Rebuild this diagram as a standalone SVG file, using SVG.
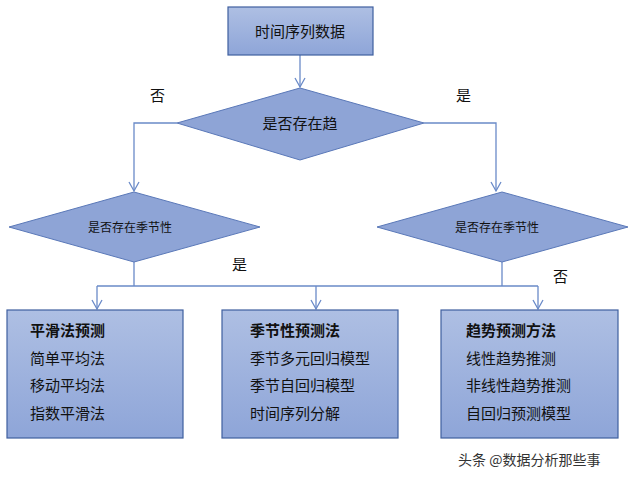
<svg xmlns="http://www.w3.org/2000/svg" width="640" height="480" viewBox="0 0 640 480">
<style>
text{font-family:"Noto Sans CJK SC","Liberation Sans",sans-serif;fill:#111}
.n{fill:url(#g);stroke:#3f5f9f;stroke-width:1.2}
.d{fill:#8ea4d6;stroke:#5a78b8;stroke-width:1}
.c{fill:none;stroke:#6a8ac8;stroke-width:1.3}
.t{font-size:15px}
.b{font-size:15px;font-weight:bold}
.s{font-size:12px}
</style>
<defs>
<linearGradient id="g" x1="0" y1="0" x2="0" y2="1"><stop offset="0" stop-color="#aebfe3"/><stop offset="1" stop-color="#8ea5d8"/></linearGradient>
<marker id="a" markerWidth="12" markerHeight="14" refX="10" refY="6" orient="auto" markerUnits="userSpaceOnUse"><path d="M1,1 L10,6 L1,11" fill="none" stroke="#6a8ac8" stroke-width="1.3"/></marker>
</defs>
<rect width="640" height="480" fill="#fff"/>
<g id="connectors">
<path class="c" d="M300,55 V87" marker-end="url(#a)"/>
<path class="c" d="M177,123 H134 V191" marker-end="url(#a)"/>
<path class="c" d="M424,123 H496 V191" marker-end="url(#a)"/>
<path class="c" d="M134,262 V286 M502,262 V286 M97,286 H538"/>
<path class="c" d="M97,286 V309" marker-end="url(#a)"/>
<path class="c" d="M316,286 V309" marker-end="url(#a)"/>
<path class="c" d="M538,286 V309" marker-end="url(#a)"/>
<text x="150" y="101" class="t">否</text>
<text x="456" y="101" class="t">是</text>
<text x="232" y="270" class="t">是</text>
<text x="553" y="282" class="t">否</text>
</g>
<g id="start"><rect class="n" x="228" y="7" width="145" height="48"/><text x="300" y="37" class="t" text-anchor="middle">时间序列数据</text></g>
<g id="trend"><polygon class="d" points="300,88 424,123 300,160 177,123"/><text x="300" y="129" class="t" text-anchor="middle">是否存在趋</text></g>
<g id="season1"><polygon class="d" points="134,192 260,227 134,262 9,227"/><text x="130" y="232" class="s" text-anchor="middle">是否存在季节性</text></g>
<g id="season2"><polygon class="d" points="502,192 628,227 502,262 377,227"/><text x="497" y="232" class="s" text-anchor="middle">是否存在季节性</text></g>
<g id="smooth"><rect class="n" x="7" y="310" width="176" height="128"/>
<text x="30" y="336" class="b">平滑法预测</text><text x="30" y="364" class="t">简单平均法</text><text x="30" y="391" class="t">移动平均法</text><text x="30" y="419" class="t">指数平滑法</text></g>
<g id="seasonal"><rect class="n" x="222" y="310" width="176" height="128"/>
<text x="250" y="336" class="b">季节性预测法</text><text x="250" y="364" class="t">季节多元回归模型</text><text x="250" y="391" class="t">季节自回归模型</text><text x="250" y="419" class="t">时间序列分解</text></g>
<g id="trendm"><rect class="n" x="441" y="310" width="177" height="128"/>
<text x="466" y="336" class="b">趋势预测方法</text><text x="466" y="364" class="t">线性趋势推测</text><text x="466" y="391" class="t">非线性趋势推测</text><text x="466" y="419" class="t">自回归预测模型</text></g>
<text x="458" y="465" font-size="14" style="fill:#333">头条 @数据分析那些事</text>
</svg>
